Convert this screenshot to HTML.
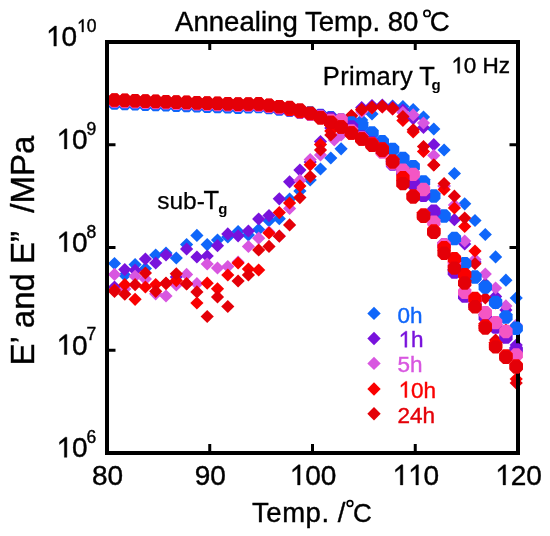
<!DOCTYPE html>
<html><head><meta charset="utf-8"><style>
html,body{margin:0;padding:0;background:#fff;}
svg{display:block;will-change:transform;}
</style></head><body>
<svg width="550" height="536" viewBox="0 0 550 536">
<rect width="550" height="536" fill="#fff"/>
<g>
<path d="M114.5 256.9L121.1 263.5L114.5 270.1L107.9 263.5Z" fill="#0F66FA"/><path d="M124.8 268.6L131.4 275.2L124.8 281.8L118.2 275.2Z" fill="#0F66FA"/><path d="M135.1 258.0L141.7 264.6L135.1 271.2L128.5 264.6Z" fill="#0F66FA"/><path d="M145.4 262.0L152.0 268.6L145.4 275.2L138.8 268.6Z" fill="#0F66FA"/><path d="M155.7 248.4L162.3 255.0L155.7 261.6L149.1 255.0Z" fill="#0F66FA"/><path d="M166.0 246.4L172.6 253.0L166.0 259.6L159.4 253.0Z" fill="#0F66FA"/><path d="M176.3 251.4L182.9 258.0L176.3 264.6L169.7 258.0Z" fill="#0F66FA"/><path d="M186.6 238.0L193.2 244.6L186.6 251.2L180.0 244.6Z" fill="#0F66FA"/><path d="M196.9 228.8L203.5 235.4L196.9 242.0L190.3 235.4Z" fill="#0F66FA"/><path d="M207.2 238.0L213.8 244.6L207.2 251.2L200.6 244.6Z" fill="#0F66FA"/><path d="M217.5 233.4L224.1 240.0L217.5 246.6L210.9 240.0Z" fill="#0F66FA"/><path d="M227.8 230.4L234.4 237.0L227.8 243.6L221.2 237.0Z" fill="#0F66FA"/><path d="M238.1 224.9L244.7 231.5L238.1 238.1L231.5 231.5Z" fill="#0F66FA"/><path d="M248.4 228.4L255.0 235.0L248.4 241.6L241.8 235.0Z" fill="#0F66FA"/><path d="M258.7 222.9L265.3 229.5L258.7 236.1L252.1 229.5Z" fill="#0F66FA"/><path d="M269.0 214.1L275.6 220.7L269.0 227.3L262.4 220.7Z" fill="#0F66FA"/><path d="M279.3 212.1L285.9 218.7L279.3 225.3L272.7 218.7Z" fill="#0F66FA"/><path d="M289.6 192.4L296.2 199.0L289.6 205.6L283.0 199.0Z" fill="#0F66FA"/><path d="M299.9 184.4L306.5 191.0L299.9 197.6L293.3 191.0Z" fill="#0F66FA"/><path d="M310.2 173.4L316.8 180.0L310.2 186.6L303.6 180.0Z" fill="#0F66FA"/><path d="M320.5 162.4L327.1 169.0L320.5 175.6L313.9 169.0Z" fill="#0F66FA"/><path d="M330.8 151.4L337.4 158.0L330.8 164.6L324.2 158.0Z" fill="#0F66FA"/><path d="M341.1 142.2L347.7 148.8L341.1 155.4L334.5 148.8Z" fill="#0F66FA"/><path d="M351.4 121.4L358.0 128.0L351.4 134.6L344.8 128.0Z" fill="#0F66FA"/><path d="M361.7 113.4L368.3 120.0L361.7 126.6L355.1 120.0Z" fill="#0F66FA"/><path d="M372.0 107.4L378.6 114.0L372.0 120.6L365.4 114.0Z" fill="#0F66FA"/><path d="M382.3 99.4L388.9 106.0L382.3 112.6L375.7 106.0Z" fill="#0F66FA"/><path d="M392.6 99.4L399.2 106.0L392.6 112.6L386.0 106.0Z" fill="#0F66FA"/><path d="M402.9 100.0L409.5 106.6L402.9 113.2L396.3 106.6Z" fill="#0F66FA"/><path d="M413.2 103.0L419.8 109.6L413.2 116.2L406.6 109.6Z" fill="#0F66FA"/><path d="M423.5 110.5L430.1 117.1L423.5 123.7L416.9 117.1Z" fill="#0F66FA"/><path d="M433.8 122.4L440.4 129.0L433.8 135.6L427.2 129.0Z" fill="#0F66FA"/><path d="M444.1 143.4L450.7 150.0L444.1 156.6L437.5 150.0Z" fill="#0F66FA"/><path d="M454.4 166.9L461.0 173.5L454.4 180.1L447.8 173.5Z" fill="#0F66FA"/><path d="M464.7 197.2L471.3 203.8L464.7 210.4L458.1 203.8Z" fill="#0F66FA"/><path d="M475.0 213.9L481.6 220.5L475.0 227.1L468.4 220.5Z" fill="#0F66FA"/><path d="M485.3 227.9L491.9 234.5L485.3 241.1L478.7 234.5Z" fill="#0F66FA"/><path d="M495.6 250.3L502.2 256.9L495.6 263.5L489.0 256.9Z" fill="#0F66FA"/><path d="M505.9 273.6L512.5 280.2L505.9 286.8L499.3 280.2Z" fill="#0F66FA"/><path d="M516.2 291.4L522.8 298.0L516.2 304.6L509.6 298.0Z" fill="#0F66FA"/><path d="M114.5 280.4L121.1 287.0L114.5 293.6L107.9 287.0Z" fill="#7812DC"/><path d="M124.8 263.0L131.4 269.6L124.8 276.2L118.2 269.6Z" fill="#7812DC"/><path d="M135.1 263.6L141.7 270.2L135.1 276.8L128.5 270.2Z" fill="#7812DC"/><path d="M145.4 252.4L152.0 259.0L145.4 265.6L138.8 259.0Z" fill="#7812DC"/><path d="M155.7 256.4L162.3 263.0L155.7 269.6L149.1 263.0Z" fill="#7812DC"/><path d="M166.0 248.4L172.6 255.0L166.0 261.6L159.4 255.0Z" fill="#7812DC"/><path d="M176.3 270.4L182.9 277.0L176.3 283.6L169.7 277.0Z" fill="#7812DC"/><path d="M186.6 242.4L193.2 249.0L186.6 255.6L180.0 249.0Z" fill="#7812DC"/><path d="M196.9 250.4L203.5 257.0L196.9 263.6L190.3 257.0Z" fill="#7812DC"/><path d="M207.2 249.4L213.8 256.0L207.2 262.6L200.6 256.0Z" fill="#7812DC"/><path d="M217.5 239.1L224.1 245.7L217.5 252.3L210.9 245.7Z" fill="#7812DC"/><path d="M227.8 227.3L234.4 233.9L227.8 240.5L221.2 233.9Z" fill="#7812DC"/><path d="M238.1 229.2L244.7 235.8L238.1 242.4L231.5 235.8Z" fill="#7812DC"/><path d="M248.4 224.4L255.0 231.0L248.4 237.6L241.8 231.0Z" fill="#7812DC"/><path d="M258.7 212.4L265.3 219.0L258.7 225.6L252.1 219.0Z" fill="#7812DC"/><path d="M269.0 209.0L275.6 215.6L269.0 222.2L262.4 215.6Z" fill="#7812DC"/><path d="M279.3 192.2L285.9 198.8L279.3 205.4L272.7 198.8Z" fill="#7812DC"/><path d="M289.6 175.2L296.2 181.8L289.6 188.4L283.0 181.8Z" fill="#7812DC"/><path d="M299.9 163.5L306.5 170.1L299.9 176.7L293.3 170.1Z" fill="#7812DC"/><path d="M310.2 155.4L316.8 162.0L310.2 168.6L303.6 162.0Z" fill="#7812DC"/><path d="M320.5 134.9L327.1 141.5L320.5 148.1L313.9 141.5Z" fill="#7812DC"/><path d="M330.8 121.4L337.4 128.0L330.8 134.6L324.2 128.0Z" fill="#7812DC"/><path d="M341.1 115.4L347.7 122.0L341.1 128.6L334.5 122.0Z" fill="#7812DC"/><path d="M351.4 112.4L358.0 119.0L351.4 125.6L344.8 119.0Z" fill="#7812DC"/><path d="M361.7 100.9L368.3 107.5L361.7 114.1L355.1 107.5Z" fill="#7812DC"/><path d="M372.0 99.0L378.6 105.6L372.0 112.2L365.4 105.6Z" fill="#7812DC"/><path d="M382.3 98.4L388.9 105.0L382.3 111.6L375.7 105.0Z" fill="#7812DC"/><path d="M392.6 100.4L399.2 107.0L392.6 113.6L386.0 107.0Z" fill="#7812DC"/><path d="M402.9 103.4L409.5 110.0L402.9 116.6L396.3 110.0Z" fill="#7812DC"/><path d="M413.2 112.0L419.8 118.6L413.2 125.2L406.6 118.6Z" fill="#7812DC"/><path d="M423.5 120.9L430.1 127.5L423.5 134.1L416.9 127.5Z" fill="#7812DC"/><path d="M433.8 138.1L440.4 144.7L433.8 151.3L427.2 144.7Z" fill="#7812DC"/><path d="M444.1 179.4L450.7 186.0L444.1 192.6L437.5 186.0Z" fill="#7812DC"/><path d="M454.4 213.1L461.0 219.7L454.4 226.3L447.8 219.7Z" fill="#7812DC"/><path d="M464.7 237.4L471.3 244.0L464.7 250.6L458.1 244.0Z" fill="#7812DC"/><path d="M475.0 255.4L481.6 262.0L475.0 268.6L468.4 262.0Z" fill="#7812DC"/><path d="M485.3 277.4L491.9 284.0L485.3 290.6L478.7 284.0Z" fill="#7812DC"/><path d="M495.6 289.8L502.2 296.4L495.6 303.0L489.0 296.4Z" fill="#7812DC"/><path d="M505.9 303.4L512.5 310.0L505.9 316.6L499.3 310.0Z" fill="#7812DC"/><path d="M516.2 338.4L522.8 345.0L516.2 351.6L509.6 345.0Z" fill="#7812DC"/><path d="M114.5 267.8L121.1 274.4L114.5 281.0L107.9 274.4Z" fill="#D856E0"/><path d="M124.8 282.4L131.4 289.0L124.8 295.6L118.2 289.0Z" fill="#D856E0"/><path d="M135.1 269.7L141.7 276.3L135.1 282.9L128.5 276.3Z" fill="#D856E0"/><path d="M145.4 272.5L152.0 279.1L145.4 285.7L138.8 279.1Z" fill="#D856E0"/><path d="M155.7 287.2L162.3 293.8L155.7 300.4L149.1 293.8Z" fill="#D856E0"/><path d="M166.0 289.4L172.6 296.0L166.0 302.6L159.4 296.0Z" fill="#D856E0"/><path d="M176.3 278.4L182.9 285.0L176.3 291.6L169.7 285.0Z" fill="#D856E0"/><path d="M186.6 267.8L193.2 274.4L186.6 281.0L180.0 274.4Z" fill="#D856E0"/><path d="M196.9 277.1L203.5 283.7L196.9 290.3L190.3 283.7Z" fill="#D856E0"/><path d="M207.2 257.4L213.8 264.0L207.2 270.6L200.6 264.0Z" fill="#D856E0"/><path d="M217.5 261.4L224.1 268.0L217.5 274.6L210.9 268.0Z" fill="#D856E0"/><path d="M227.8 260.0L234.4 266.6L227.8 273.2L221.2 266.6Z" fill="#D856E0"/><path d="M238.1 255.4L244.7 262.0L238.1 268.6L231.5 262.0Z" fill="#D856E0"/><path d="M248.4 239.9L255.0 246.5L248.4 253.1L241.8 246.5Z" fill="#D856E0"/><path d="M258.7 231.6L265.3 238.2L258.7 244.8L252.1 238.2Z" fill="#D856E0"/><path d="M269.0 225.4L275.6 232.0L269.0 238.6L262.4 232.0Z" fill="#D856E0"/><path d="M279.3 229.4L285.9 236.0L279.3 242.6L272.7 236.0Z" fill="#D856E0"/><path d="M289.6 201.9L296.2 208.5L289.6 215.1L283.0 208.5Z" fill="#D856E0"/><path d="M299.9 173.8L306.5 180.4L299.9 187.0L293.3 180.4Z" fill="#D856E0"/><path d="M310.2 152.9L316.8 159.5L310.2 166.1L303.6 159.5Z" fill="#D856E0"/><path d="M320.5 148.4L327.1 155.0L320.5 161.6L313.9 155.0Z" fill="#D856E0"/><path d="M334.3 133.4L340.9 140.0L334.3 146.6L327.7 140.0Z" fill="#D856E0"/><path d="M341.1 128.4L347.7 135.0L341.1 141.6L334.5 135.0Z" fill="#D856E0"/><path d="M351.4 113.4L358.0 120.0L351.4 126.6L344.8 120.0Z" fill="#D856E0"/><path d="M361.7 105.4L368.3 112.0L361.7 118.6L355.1 112.0Z" fill="#D856E0"/><path d="M372.0 101.4L378.6 108.0L372.0 114.6L365.4 108.0Z" fill="#D856E0"/><path d="M382.3 100.4L388.9 107.0L382.3 113.6L375.7 107.0Z" fill="#D856E0"/><path d="M392.6 102.4L399.2 109.0L392.6 115.6L386.0 109.0Z" fill="#D856E0"/><path d="M402.9 106.0L409.5 112.6L402.9 119.2L396.3 112.6Z" fill="#D856E0"/><path d="M413.2 108.3L419.8 114.9L413.2 121.5L406.6 114.9Z" fill="#D856E0"/><path d="M423.5 116.4L430.1 123.0L423.5 129.6L416.9 123.0Z" fill="#D856E0"/><path d="M433.8 148.9L440.4 155.5L433.8 162.1L427.2 155.5Z" fill="#D856E0"/><path d="M444.1 179.4L450.7 186.0L444.1 192.6L437.5 186.0Z" fill="#D856E0"/><path d="M454.4 198.4L461.0 205.0L454.4 211.6L447.8 205.0Z" fill="#D856E0"/><path d="M464.7 234.4L471.3 241.0L464.7 247.6L458.1 241.0Z" fill="#D856E0"/><path d="M475.0 252.9L481.6 259.5L475.0 266.1L468.4 259.5Z" fill="#D856E0"/><path d="M485.3 267.4L491.9 274.0L485.3 280.6L478.7 274.0Z" fill="#D856E0"/><path d="M495.6 281.4L502.2 288.0L495.6 294.6L489.0 288.0Z" fill="#D856E0"/><path d="M505.9 299.3L512.5 305.9L505.9 312.5L499.3 305.9Z" fill="#D856E0"/><path d="M516.2 318.4L522.8 325.0L516.2 331.6L509.6 325.0Z" fill="#D856E0"/><path d="M114.5 283.4L121.1 290.0L114.5 296.6L107.9 290.0Z" fill="#FA0000"/><path d="M124.8 278.1L131.4 284.7L124.8 291.3L118.2 284.7Z" fill="#FA0000"/><path d="M135.1 292.7L141.7 299.3L135.1 305.9L128.5 299.3Z" fill="#FA0000"/><path d="M145.4 280.4L152.0 287.0L145.4 293.6L138.8 287.0Z" fill="#FA0000"/><path d="M155.7 277.9L162.3 284.5L155.7 291.1L149.1 284.5Z" fill="#FA0000"/><path d="M166.0 277.1L172.6 283.7L166.0 290.3L159.4 283.7Z" fill="#FA0000"/><path d="M176.3 274.0L182.9 280.6L176.3 287.2L169.7 280.6Z" fill="#FA0000"/><path d="M186.6 277.1L193.2 283.7L186.6 290.3L180.0 283.7Z" fill="#FA0000"/><path d="M196.9 296.4L203.5 303.0L196.9 309.6L190.3 303.0Z" fill="#FA0000"/><path d="M207.2 276.6L213.8 283.2L207.2 289.8L200.6 283.2Z" fill="#FA0000"/><path d="M217.5 282.2L224.1 288.8L217.5 295.4L210.9 288.8Z" fill="#FA0000"/><path d="M227.8 268.4L234.4 275.0L227.8 281.6L221.2 275.0Z" fill="#FA0000"/><path d="M238.1 256.4L244.7 263.0L238.1 269.6L231.5 263.0Z" fill="#FA0000"/><path d="M248.4 262.4L255.0 269.0L248.4 275.6L241.8 269.0Z" fill="#FA0000"/><path d="M258.7 263.4L265.3 270.0L258.7 276.6L252.1 270.0Z" fill="#FA0000"/><path d="M269.0 226.4L275.6 233.0L269.0 239.6L262.4 233.0Z" fill="#FA0000"/><path d="M279.3 206.0L285.9 212.6L279.3 219.2L272.7 212.6Z" fill="#FA0000"/><path d="M289.6 196.4L296.2 203.0L289.6 209.6L283.0 203.0Z" fill="#FA0000"/><path d="M299.9 179.3L306.5 185.9L299.9 192.5L293.3 185.9Z" fill="#FA0000"/><path d="M310.2 158.2L316.8 164.8L310.2 171.4L303.6 164.8Z" fill="#FA0000"/><path d="M320.5 137.9L327.1 144.5L320.5 151.1L313.9 144.5Z" fill="#FA0000"/><path d="M330.8 124.5L337.4 131.1L330.8 137.7L324.2 131.1Z" fill="#FA0000"/><path d="M341.1 115.4L347.7 122.0L341.1 128.6L334.5 122.0Z" fill="#FA0000"/><path d="M351.4 109.4L358.0 116.0L351.4 122.6L344.8 116.0Z" fill="#FA0000"/><path d="M361.7 103.4L368.3 110.0L361.7 116.6L355.1 110.0Z" fill="#FA0000"/><path d="M372.0 101.4L378.6 108.0L372.0 114.6L365.4 108.0Z" fill="#FA0000"/><path d="M382.3 100.4L388.9 107.0L382.3 113.6L375.7 107.0Z" fill="#FA0000"/><path d="M392.6 102.4L399.2 109.0L392.6 115.6L386.0 109.0Z" fill="#FA0000"/><path d="M402.9 113.9L409.5 120.5L402.9 127.1L396.3 120.5Z" fill="#FA0000"/><path d="M413.2 125.3L419.8 131.9L413.2 138.5L406.6 131.9Z" fill="#FA0000"/><path d="M423.5 144.9L430.1 151.5L423.5 158.1L416.9 151.5Z" fill="#FA0000"/><path d="M433.8 158.4L440.4 165.0L433.8 171.6L427.2 165.0Z" fill="#FA0000"/><path d="M444.1 182.9L450.7 189.5L444.1 196.1L437.5 189.5Z" fill="#FA0000"/><path d="M454.4 201.4L461.0 208.0L454.4 214.6L447.8 208.0Z" fill="#FA0000"/><path d="M464.7 219.9L471.3 226.5L464.7 233.1L458.1 226.5Z" fill="#FA0000"/><path d="M475.0 244.4L481.6 251.0L475.0 257.6L468.4 251.0Z" fill="#FA0000"/><path d="M485.3 279.4L491.9 286.0L485.3 292.6L478.7 286.0Z" fill="#FA0000"/><path d="M495.6 296.4L502.2 303.0L495.6 309.6L489.0 303.0Z" fill="#FA0000"/><path d="M505.9 323.4L512.5 330.0L505.9 336.6L499.3 330.0Z" fill="#FA0000"/><path d="M516.2 372.4L522.8 379.0L516.2 385.6L509.6 379.0Z" fill="#FA0000"/><path d="M114.5 284.8L121.1 291.4L114.5 298.0L107.9 291.4Z" fill="#E40008"/><path d="M124.8 287.6L131.4 294.2L124.8 300.8L118.2 294.2Z" fill="#E40008"/><path d="M135.1 278.1L141.7 284.7L135.1 291.3L128.5 284.7Z" fill="#E40008"/><path d="M145.4 266.4L152.0 273.0L145.4 279.6L138.8 273.0Z" fill="#E40008"/><path d="M155.7 284.7L162.3 291.3L155.7 297.9L149.1 291.3Z" fill="#E40008"/><path d="M166.0 276.4L172.6 283.0L166.0 289.6L159.4 283.0Z" fill="#E40008"/><path d="M176.3 267.2L182.9 273.8L176.3 280.4L169.7 273.8Z" fill="#E40008"/><path d="M186.6 277.4L193.2 284.0L186.6 290.6L180.0 284.0Z" fill="#E40008"/><path d="M196.9 285.3L203.5 291.9L196.9 298.5L190.3 291.9Z" fill="#E40008"/><path d="M207.2 309.9L213.8 316.5L207.2 323.1L200.6 316.5Z" fill="#E40008"/><path d="M217.5 290.4L224.1 297.0L217.5 303.6L210.9 297.0Z" fill="#E40008"/><path d="M227.8 299.9L234.4 306.5L227.8 313.1L221.2 306.5Z" fill="#E40008"/><path d="M238.1 274.4L244.7 281.0L238.1 287.6L231.5 281.0Z" fill="#E40008"/><path d="M248.4 268.4L255.0 275.0L248.4 281.6L241.8 275.0Z" fill="#E40008"/><path d="M258.7 243.4L265.3 250.0L258.7 256.6L252.1 250.0Z" fill="#E40008"/><path d="M269.0 239.8L275.6 246.4L269.0 253.0L262.4 246.4Z" fill="#E40008"/><path d="M279.3 229.6L285.9 236.2L279.3 242.8L272.7 236.2Z" fill="#E40008"/><path d="M289.6 218.3L296.2 224.9L289.6 231.5L283.0 224.9Z" fill="#E40008"/><path d="M299.9 191.0L306.5 197.6L299.9 204.2L293.3 197.6Z" fill="#E40008"/><path d="M310.2 170.0L316.8 176.6L310.2 183.2L303.6 176.6Z" fill="#E40008"/><path d="M320.5 143.4L327.1 150.0L320.5 156.6L313.9 150.0Z" fill="#E40008"/><path d="M330.8 128.4L337.4 135.0L330.8 141.6L324.2 135.0Z" fill="#E40008"/><path d="M341.1 114.4L347.7 121.0L341.1 127.6L334.5 121.0Z" fill="#E40008"/><path d="M351.4 108.9L358.0 115.5L351.4 122.1L344.8 115.5Z" fill="#E40008"/><path d="M361.7 102.7L368.3 109.3L361.7 115.9L355.1 109.3Z" fill="#E40008"/><path d="M372.0 100.4L378.6 107.0L372.0 113.6L365.4 107.0Z" fill="#E40008"/><path d="M382.3 99.4L388.9 106.0L382.3 112.6L375.7 106.0Z" fill="#E40008"/><path d="M392.6 101.5L399.2 108.1L392.6 114.7L386.0 108.1Z" fill="#E40008"/><path d="M402.9 109.9L409.5 116.5L402.9 123.1L396.3 116.5Z" fill="#E40008"/><path d="M413.2 123.2L419.8 129.8L413.2 136.4L406.6 129.8Z" fill="#E40008"/><path d="M423.5 139.9L430.1 146.5L423.5 153.1L416.9 146.5Z" fill="#E40008"/><path d="M433.8 158.4L440.4 165.0L433.8 171.6L427.2 165.0Z" fill="#E40008"/><path d="M444.1 177.0L450.7 183.6L444.1 190.2L437.5 183.6Z" fill="#E40008"/><path d="M454.4 189.6L461.0 196.2L454.4 202.8L447.8 196.2Z" fill="#E40008"/><path d="M464.7 211.4L471.3 218.0L464.7 224.6L458.1 218.0Z" fill="#E40008"/><path d="M475.0 257.1L481.6 263.7L475.0 270.3L468.4 263.7Z" fill="#E40008"/><path d="M485.3 291.4L491.9 298.0L485.3 304.6L478.7 298.0Z" fill="#E40008"/><path d="M495.6 333.4L502.2 340.0L495.6 346.6L489.0 340.0Z" fill="#E40008"/><path d="M505.9 350.4L512.5 357.0L505.9 363.6L499.3 357.0Z" fill="#E40008"/><path d="M516.2 376.4L522.8 383.0L516.2 389.6L509.6 383.0Z" fill="#E40008"/>
<line x1="518" y1="40" x2="518" y2="455" stroke="#000" stroke-width="4"/><line x1="105" y1="42" x2="520" y2="42" stroke="#000" stroke-width="4"/><line x1="209.75" y1="44" x2="209.75" y2="50" stroke="#000" stroke-width="3"/><line x1="312.50" y1="44" x2="312.50" y2="50" stroke="#000" stroke-width="3"/><line x1="415.25" y1="44" x2="415.25" y2="50" stroke="#000" stroke-width="3"/><line x1="516" y1="350.25" x2="509.5" y2="350.25" stroke="#000" stroke-width="3"/><line x1="516" y1="247.50" x2="509.5" y2="247.50" stroke="#000" stroke-width="3"/><line x1="516" y1="144.75" x2="509.5" y2="144.75" stroke="#000" stroke-width="3"/>
<polygon points="121.2,105.9 117.3,109.8 111.7,109.8 107.8,105.9 107.8,100.3 111.7,96.4 117.3,96.4 121.2,100.3" fill="#0F66FA"/><polygon points="131.5,106.2 127.6,110.2 122.0,110.2 118.1,106.2 118.1,100.7 122.0,96.7 127.6,96.7 131.5,100.7" fill="#0F66FA"/><polygon points="141.8,106.6 137.9,110.5 132.3,110.5 128.4,106.6 128.4,101.0 132.3,97.1 137.9,97.1 141.8,101.0" fill="#0F66FA"/><polygon points="152.1,106.9 148.2,110.9 142.6,110.9 138.7,106.9 138.7,101.3 142.6,97.4 148.2,97.4 152.1,101.3" fill="#0F66FA"/><polygon points="162.4,107.3 158.5,111.2 152.9,111.2 149.0,107.3 149.0,101.7 152.9,97.8 158.5,97.8 162.4,101.7" fill="#0F66FA"/><polygon points="172.7,107.6 168.8,111.5 163.2,111.5 159.3,107.6 159.3,102.0 163.2,98.1 168.8,98.1 172.7,102.0" fill="#0F66FA"/><polygon points="183.0,108.0 179.1,111.9 173.5,111.9 169.6,108.0 169.6,102.4 173.5,98.4 179.1,98.4 183.0,102.4" fill="#0F66FA"/><polygon points="193.3,108.3 189.4,112.2 183.8,112.2 179.9,108.3 179.9,102.7 183.8,98.8 189.4,98.8 193.3,102.7" fill="#0F66FA"/><polygon points="203.6,108.6 199.7,112.6 194.1,112.6 190.2,108.6 190.2,103.1 194.1,99.1 199.7,99.1 203.6,103.1" fill="#0F66FA"/><polygon points="213.9,109.0 210.0,112.9 204.4,112.9 200.5,109.0 200.5,103.4 204.4,99.5 210.0,99.5 213.9,103.4" fill="#0F66FA"/><polygon points="224.2,109.3 220.3,113.3 214.7,113.3 210.8,109.3 210.8,103.7 214.7,99.8 220.3,99.8 224.2,103.7" fill="#0F66FA"/><polygon points="234.5,109.7 230.6,113.6 225.0,113.6 221.1,109.7 221.1,104.1 225.0,100.1 230.6,100.1 234.5,104.1" fill="#0F66FA"/><polygon points="244.8,110.0 240.9,113.9 235.3,113.9 231.4,110.0 231.4,104.4 235.3,100.5 240.9,100.5 244.8,104.4" fill="#0F66FA"/><polygon points="255.1,109.6 251.2,113.6 245.6,113.6 241.7,109.6 241.7,104.1 245.6,100.1 251.2,100.1 255.1,104.1" fill="#0F66FA"/><polygon points="265.4,109.3 261.5,113.2 255.9,113.2 252.0,109.3 252.0,103.7 255.9,99.8 261.5,99.8 265.4,103.7" fill="#0F66FA"/><polygon points="275.7,110.4 271.8,114.3 266.2,114.3 262.3,110.4 262.3,104.8 266.2,100.9 271.8,100.9 275.7,104.8" fill="#0F66FA"/><polygon points="286.0,111.8 282.1,115.7 276.5,115.7 272.6,111.8 272.6,106.2 276.5,102.3 282.1,102.3 286.0,106.2" fill="#0F66FA"/><polygon points="296.3,112.8 292.4,116.7 286.8,116.7 282.9,112.8 282.9,107.2 286.8,103.3 292.4,103.3 296.3,107.2" fill="#0F66FA"/><polygon points="306.6,113.8 302.7,117.7 297.1,117.7 293.2,113.8 293.2,108.2 297.1,104.3 302.7,104.3 306.6,108.2" fill="#0F66FA"/><polygon points="316.9,115.8 313.0,119.7 307.4,119.7 303.5,115.8 303.5,110.2 307.4,106.3 313.0,106.3 316.9,110.2" fill="#0F66FA"/><polygon points="327.2,118.3 323.3,122.2 317.7,122.2 313.8,118.3 313.8,112.7 317.7,108.8 323.3,108.8 327.2,112.7" fill="#0F66FA"/><polygon points="337.5,120.6 333.6,124.5 328.0,124.5 324.1,120.6 324.1,115.0 328.0,111.1 333.6,111.1 337.5,115.0" fill="#0F66FA"/><polygon points="347.8,122.8 343.9,126.7 338.3,126.7 334.4,122.8 334.4,117.2 338.3,113.3 343.9,113.3 347.8,117.2" fill="#0F66FA"/><polygon points="358.1,125.8 354.2,129.7 348.6,129.7 344.7,125.8 344.7,120.2 348.6,116.3 354.2,116.3 358.1,120.2" fill="#0F66FA"/><polygon points="368.4,127.8 364.5,131.7 358.9,131.7 355.0,127.8 355.0,122.2 358.9,118.3 364.5,118.3 368.4,122.2" fill="#0F66FA"/><polygon points="378.7,135.8 374.8,139.7 369.2,139.7 365.3,135.8 365.3,130.2 369.2,126.3 374.8,126.3 378.7,130.2" fill="#0F66FA"/><polygon points="389.0,144.5 385.1,148.4 379.5,148.4 375.6,144.5 375.6,138.9 379.5,135.0 385.1,135.0 389.0,138.9" fill="#0F66FA"/><polygon points="399.3,152.2 395.4,156.1 389.8,156.1 385.9,152.2 385.9,146.6 389.8,142.7 395.4,142.7 399.3,146.6" fill="#0F66FA"/><polygon points="409.6,161.2 405.7,165.1 400.1,165.1 396.2,161.2 396.2,155.6 400.1,151.7 405.7,151.7 409.6,155.6" fill="#0F66FA"/><polygon points="419.9,169.4 416.0,173.3 410.4,173.3 406.5,169.4 406.5,163.8 410.4,159.9 416.0,159.9 419.9,163.8" fill="#0F66FA"/><polygon points="430.2,184.8 426.3,188.7 420.7,188.7 416.8,184.8 416.8,179.2 420.7,175.3 426.3,175.3 430.2,179.2" fill="#0F66FA"/><polygon points="440.5,198.8 436.6,202.7 431.0,202.7 427.1,198.8 427.1,193.2 431.0,189.3 436.6,189.3 440.5,193.2" fill="#0F66FA"/><polygon points="450.8,218.8 446.9,222.7 441.3,222.7 437.4,218.8 437.4,213.2 441.3,209.3 446.9,209.3 450.8,213.2" fill="#0F66FA"/><polygon points="461.1,241.3 457.2,245.2 451.6,245.2 447.7,241.3 447.7,235.7 451.6,231.8 457.2,231.8 461.1,235.7" fill="#0F66FA"/><polygon points="471.4,266.4 467.5,270.3 461.9,270.3 458.0,266.4 458.0,260.8 461.9,256.9 467.5,256.9 471.4,260.8" fill="#0F66FA"/><polygon points="481.7,279.8 477.8,283.7 472.2,283.7 468.3,279.8 468.3,274.2 472.2,270.3 477.8,270.3 481.7,274.2" fill="#0F66FA"/><polygon points="492.0,289.8 488.1,293.7 482.5,293.7 478.6,289.8 478.6,284.2 482.5,280.3 488.1,280.3 492.0,284.2" fill="#0F66FA"/><polygon points="502.3,305.2 498.4,309.1 492.8,309.1 488.9,305.2 488.9,299.6 492.8,295.7 498.4,295.7 502.3,299.6" fill="#0F66FA"/><polygon points="512.6,319.8 508.7,323.7 503.1,323.7 499.2,319.8 499.2,314.2 503.1,310.3 508.7,310.3 512.6,314.2" fill="#0F66FA"/><polygon points="522.9,331.0 519.0,334.9 513.4,334.9 509.5,331.0 509.5,325.4 513.4,321.5 519.0,321.5 522.9,325.4" fill="#0F66FA"/><polygon points="121.2,103.5 117.3,107.4 111.7,107.4 107.8,103.5 107.8,97.9 111.7,94.0 117.3,94.0 121.2,97.9" fill="#7812DC"/><polygon points="131.5,103.8 127.6,107.8 122.0,107.8 118.1,103.8 118.1,98.3 122.0,94.3 127.6,94.3 131.5,98.3" fill="#7812DC"/><polygon points="141.8,104.2 137.9,108.1 132.3,108.1 128.4,104.2 128.4,98.6 132.3,94.7 137.9,94.7 141.8,98.6" fill="#7812DC"/><polygon points="152.1,104.5 148.2,108.5 142.6,108.5 138.7,104.5 138.7,98.9 142.6,95.0 148.2,95.0 152.1,98.9" fill="#7812DC"/><polygon points="162.4,104.9 158.5,108.8 152.9,108.8 149.0,104.9 149.0,99.3 152.9,95.4 158.5,95.4 162.4,99.3" fill="#7812DC"/><polygon points="172.7,105.2 168.8,109.1 163.2,109.1 159.3,105.2 159.3,99.6 163.2,95.7 168.8,95.7 172.7,99.6" fill="#7812DC"/><polygon points="183.0,105.6 179.1,109.5 173.5,109.5 169.6,105.6 169.6,100.0 173.5,96.0 179.1,96.0 183.0,100.0" fill="#7812DC"/><polygon points="193.3,105.9 189.4,109.8 183.8,109.8 179.9,105.9 179.9,100.3 183.8,96.4 189.4,96.4 193.3,100.3" fill="#7812DC"/><polygon points="203.6,106.2 199.7,110.2 194.1,110.2 190.2,106.2 190.2,100.7 194.1,96.7 199.7,96.7 203.6,100.7" fill="#7812DC"/><polygon points="213.9,106.6 210.0,110.5 204.4,110.5 200.5,106.6 200.5,101.0 204.4,97.1 210.0,97.1 213.9,101.0" fill="#7812DC"/><polygon points="224.2,106.9 220.3,110.9 214.7,110.9 210.8,106.9 210.8,101.3 214.7,97.4 220.3,97.4 224.2,101.3" fill="#7812DC"/><polygon points="234.5,107.3 230.6,111.2 225.0,111.2 221.1,107.3 221.1,101.7 225.0,97.7 230.6,97.7 234.5,101.7" fill="#7812DC"/><polygon points="244.8,107.6 240.9,111.5 235.3,111.5 231.4,107.6 231.4,102.0 235.3,98.1 240.9,98.1 244.8,102.0" fill="#7812DC"/><polygon points="255.1,107.7 251.2,111.6 245.6,111.6 241.7,107.7 241.7,102.1 245.6,98.2 251.2,98.2 255.1,102.1" fill="#7812DC"/><polygon points="265.4,107.8 261.5,111.7 255.9,111.7 252.0,107.8 252.0,102.2 255.9,98.3 261.5,98.3 265.4,102.2" fill="#7812DC"/><polygon points="275.7,109.3 271.8,113.3 266.2,113.3 262.3,109.3 262.3,103.8 266.2,99.8 271.8,99.8 275.7,103.8" fill="#7812DC"/><polygon points="286.0,110.9 282.1,114.8 276.5,114.8 272.6,110.9 272.6,105.3 276.5,101.4 282.1,101.4 286.0,105.3" fill="#7812DC"/><polygon points="296.3,112.6 292.4,116.5 286.8,116.5 282.9,112.6 282.9,107.0 286.8,103.1 292.4,103.1 296.3,107.0" fill="#7812DC"/><polygon points="306.6,114.9 302.7,118.8 297.1,118.8 293.2,114.9 293.2,109.3 297.1,105.4 302.7,105.4 306.6,109.3" fill="#7812DC"/><polygon points="316.9,116.8 313.0,120.7 307.4,120.7 303.5,116.8 303.5,111.2 307.4,107.3 313.0,107.3 316.9,111.2" fill="#7812DC"/><polygon points="327.2,118.8 323.3,122.7 317.7,122.7 313.8,118.8 313.8,113.2 317.7,109.3 323.3,109.3 327.2,113.2" fill="#7812DC"/><polygon points="337.5,121.3 333.6,125.2 328.0,125.2 324.1,121.3 324.1,115.7 328.0,111.8 333.6,111.8 337.5,115.7" fill="#7812DC"/><polygon points="347.8,123.8 343.9,127.7 338.3,127.7 334.4,123.8 334.4,118.2 338.3,114.3 343.9,114.3 347.8,118.2" fill="#7812DC"/><polygon points="358.1,129.8 354.2,133.7 348.6,133.7 344.7,129.8 344.7,124.2 348.6,120.3 354.2,120.3 358.1,124.2" fill="#7812DC"/><polygon points="368.4,139.8 364.5,143.7 358.9,143.7 355.0,139.8 355.0,134.2 358.9,130.3 364.5,130.3 368.4,134.2" fill="#7812DC"/><polygon points="378.7,145.8 374.8,149.7 369.2,149.7 365.3,145.8 365.3,140.2 369.2,136.3 374.8,136.3 378.7,140.2" fill="#7812DC"/><polygon points="389.0,151.8 385.1,155.7 379.5,155.7 375.6,151.8 375.6,146.2 379.5,142.3 385.1,142.3 389.0,146.2" fill="#7812DC"/><polygon points="399.3,166.8 395.4,170.7 389.8,170.7 385.9,166.8 385.9,161.2 389.8,157.3 395.4,157.3 399.3,161.2" fill="#7812DC"/><polygon points="409.6,174.8 405.7,178.7 400.1,178.7 396.2,174.8 396.2,169.2 400.1,165.3 405.7,165.3 409.6,169.2" fill="#7812DC"/><polygon points="419.9,186.4 416.0,190.3 410.4,190.3 406.5,186.4 406.5,180.8 410.4,176.9 416.0,176.9 419.9,180.8" fill="#7812DC"/><polygon points="430.2,198.2 426.3,202.1 420.7,202.1 416.8,198.2 416.8,192.6 420.7,188.7 426.3,188.7 430.2,192.6" fill="#7812DC"/><polygon points="440.5,214.1 436.6,218.0 431.0,218.0 427.1,214.1 427.1,208.5 431.0,204.6 436.6,204.6 440.5,208.5" fill="#7812DC"/><polygon points="450.8,247.8 446.9,251.7 441.3,251.7 437.4,247.8 437.4,242.2 441.3,238.3 446.9,238.3 450.8,242.2" fill="#7812DC"/><polygon points="461.1,274.8 457.2,278.7 451.6,278.7 447.7,274.8 447.7,269.2 451.6,265.3 457.2,265.3 461.1,269.2" fill="#7812DC"/><polygon points="471.4,298.8 467.5,302.7 461.9,302.7 458.0,298.8 458.0,293.2 461.9,289.3 467.5,289.3 471.4,293.2" fill="#7812DC"/><polygon points="481.7,307.8 477.8,311.7 472.2,311.7 468.3,307.8 468.3,302.2 472.2,298.3 477.8,298.3 481.7,302.2" fill="#7812DC"/><polygon points="492.0,319.8 488.1,323.7 482.5,323.7 478.6,319.8 478.6,314.2 482.5,310.3 488.1,310.3 492.0,314.2" fill="#7812DC"/><polygon points="502.3,329.8 498.4,333.7 492.8,333.7 488.9,329.8 488.9,324.2 492.8,320.3 498.4,320.3 502.3,324.2" fill="#7812DC"/><polygon points="512.6,339.8 508.7,343.7 503.1,343.7 499.2,339.8 499.2,334.2 503.1,330.3 508.7,330.3 512.6,334.2" fill="#7812DC"/><polygon points="522.9,352.8 519.0,356.7 513.4,356.7 509.5,352.8 509.5,347.2 513.4,343.3 519.0,343.3 522.9,347.2" fill="#7812DC"/><polygon points="121.2,103.9 117.3,107.8 111.7,107.8 107.8,103.9 107.8,98.3 111.7,94.4 117.3,94.4 121.2,98.3" fill="#F456C4"/><polygon points="131.5,104.2 127.6,108.2 122.0,108.2 118.1,104.2 118.1,98.7 122.0,94.7 127.6,94.7 131.5,98.7" fill="#F456C4"/><polygon points="141.8,104.6 137.9,108.5 132.3,108.5 128.4,104.6 128.4,99.0 132.3,95.1 137.9,95.1 141.8,99.0" fill="#F456C4"/><polygon points="152.1,104.9 148.2,108.9 142.6,108.9 138.7,104.9 138.7,99.3 142.6,95.4 148.2,95.4 152.1,99.3" fill="#F456C4"/><polygon points="162.4,105.3 158.5,109.2 152.9,109.2 149.0,105.3 149.0,99.7 152.9,95.8 158.5,95.8 162.4,99.7" fill="#F456C4"/><polygon points="172.7,105.6 168.8,109.5 163.2,109.5 159.3,105.6 159.3,100.0 163.2,96.1 168.8,96.1 172.7,100.0" fill="#F456C4"/><polygon points="183.0,106.0 179.1,109.9 173.5,109.9 169.6,106.0 169.6,100.4 173.5,96.4 179.1,96.4 183.0,100.4" fill="#F456C4"/><polygon points="193.3,106.3 189.4,110.2 183.8,110.2 179.9,106.3 179.9,100.7 183.8,96.8 189.4,96.8 193.3,100.7" fill="#F456C4"/><polygon points="203.6,106.6 199.7,110.6 194.1,110.6 190.2,106.6 190.2,101.1 194.1,97.1 199.7,97.1 203.6,101.1" fill="#F456C4"/><polygon points="213.9,107.0 210.0,110.9 204.4,110.9 200.5,107.0 200.5,101.4 204.4,97.5 210.0,97.5 213.9,101.4" fill="#F456C4"/><polygon points="224.2,107.3 220.3,111.3 214.7,111.3 210.8,107.3 210.8,101.7 214.7,97.8 220.3,97.8 224.2,101.7" fill="#F456C4"/><polygon points="234.5,107.7 230.6,111.6 225.0,111.6 221.1,107.7 221.1,102.1 225.0,98.1 230.6,98.1 234.5,102.1" fill="#F456C4"/><polygon points="244.8,108.0 240.9,111.9 235.3,111.9 231.4,108.0 231.4,102.4 235.3,98.5 240.9,98.5 244.8,102.4" fill="#F456C4"/><polygon points="255.1,107.9 251.2,111.8 245.6,111.8 241.7,107.9 241.7,102.3 245.6,98.4 251.2,98.4 255.1,102.3" fill="#F456C4"/><polygon points="265.4,107.8 261.5,111.7 255.9,111.7 252.0,107.8 252.0,102.2 255.9,98.3 261.5,98.3 265.4,102.2" fill="#F456C4"/><polygon points="275.7,109.0 271.8,113.0 266.2,113.0 262.3,109.0 262.3,103.5 266.2,99.5 271.8,99.5 275.7,103.5" fill="#F456C4"/><polygon points="286.0,110.3 282.1,114.2 276.5,114.2 272.6,110.3 272.6,104.7 276.5,100.8 282.1,100.8 286.0,104.7" fill="#F456C4"/><polygon points="296.3,111.8 292.4,115.7 286.8,115.7 282.9,111.8 282.9,106.2 286.8,102.3 292.4,102.3 296.3,106.2" fill="#F456C4"/><polygon points="306.6,114.3 302.7,118.2 297.1,118.2 293.2,114.3 293.2,108.7 297.1,104.8 302.7,104.8 306.6,108.7" fill="#F456C4"/><polygon points="316.9,116.9 313.0,120.8 307.4,120.8 303.5,116.9 303.5,111.3 307.4,107.4 313.0,107.4 316.9,111.3" fill="#F456C4"/><polygon points="327.2,119.8 323.3,123.7 317.7,123.7 313.8,119.8 313.8,114.2 317.7,110.3 323.3,110.3 327.2,114.2" fill="#F456C4"/><polygon points="337.5,123.2 333.6,127.1 328.0,127.1 324.1,123.2 324.1,117.6 328.0,113.7 333.6,113.7 337.5,117.6" fill="#F456C4"/><polygon points="347.8,122.8 343.9,126.7 338.3,126.7 334.4,122.8 334.4,117.2 338.3,113.3 343.9,113.3 347.8,117.2" fill="#F456C4"/><polygon points="358.1,133.8 354.2,137.7 348.6,137.7 344.7,133.8 344.7,128.2 348.6,124.3 354.2,124.3 358.1,128.2" fill="#F456C4"/><polygon points="368.4,140.8 364.5,144.7 358.9,144.7 355.0,140.8 355.0,135.2 358.9,131.3 364.5,131.3 368.4,135.2" fill="#F456C4"/><polygon points="378.7,146.8 374.8,150.7 369.2,150.7 365.3,146.8 365.3,141.2 369.2,137.3 374.8,137.3 378.7,141.2" fill="#F456C4"/><polygon points="389.0,154.8 385.1,158.7 379.5,158.7 375.6,154.8 375.6,149.2 379.5,145.3 385.1,145.3 389.0,149.2" fill="#F456C4"/><polygon points="399.3,165.8 395.4,169.7 389.8,169.7 385.9,165.8 385.9,160.2 389.8,156.3 395.4,156.3 399.3,160.2" fill="#F456C4"/><polygon points="409.6,173.0 405.7,176.9 400.1,176.9 396.2,173.0 396.2,167.4 400.1,163.5 405.7,163.5 409.6,167.4" fill="#F456C4"/><polygon points="419.9,177.2 416.0,181.1 410.4,181.1 406.5,177.2 406.5,171.6 410.4,167.7 416.0,167.7 419.9,171.6" fill="#F456C4"/><polygon points="430.2,192.3 426.3,196.2 420.7,196.2 416.8,192.3 416.8,186.7 420.7,182.8 426.3,182.8 430.2,186.7" fill="#F456C4"/><polygon points="440.5,225.1 436.6,229.0 431.0,229.0 427.1,225.1 427.1,219.5 431.0,215.6 436.6,215.6 440.5,219.5" fill="#F456C4"/><polygon points="450.8,247.8 446.9,251.7 441.3,251.7 437.4,247.8 437.4,242.2 441.3,238.3 446.9,238.3 450.8,242.2" fill="#F456C4"/><polygon points="461.1,267.8 457.2,271.7 451.6,271.7 447.7,267.8 447.7,262.2 451.6,258.3 457.2,258.3 461.1,262.2" fill="#F456C4"/><polygon points="471.4,295.1 467.5,299.0 461.9,299.0 458.0,295.1 458.0,289.5 461.9,285.6 467.5,285.6 471.4,289.5" fill="#F456C4"/><polygon points="481.7,302.8 477.8,306.7 472.2,306.7 468.3,302.8 468.3,297.2 472.2,293.3 477.8,293.3 481.7,297.2" fill="#F456C4"/><polygon points="492.0,315.6 488.1,319.5 482.5,319.5 478.6,315.6 478.6,310.0 482.5,306.1 488.1,306.1 492.0,310.0" fill="#F456C4"/><polygon points="502.3,325.4 498.4,329.3 492.8,329.3 488.9,325.4 488.9,319.8 492.8,315.9 498.4,315.9 502.3,319.8" fill="#F456C4"/><polygon points="512.6,334.3 508.7,338.2 503.1,338.2 499.2,334.3 499.2,328.7 503.1,324.8 508.7,324.8 512.6,328.7" fill="#F456C4"/><polygon points="522.9,357.8 519.0,361.7 513.4,361.7 509.5,357.8 509.5,352.2 513.4,348.3 519.0,348.3 522.9,352.2" fill="#F456C4"/><polygon points="121.2,102.9 117.3,106.8 111.7,106.8 107.8,102.9 107.8,97.3 111.7,93.4 117.3,93.4 121.2,97.3" fill="#FA0000"/><polygon points="131.5,103.2 127.6,107.2 122.0,107.2 118.1,103.2 118.1,97.7 122.0,93.7 127.6,93.7 131.5,97.7" fill="#FA0000"/><polygon points="141.8,103.6 137.9,107.5 132.3,107.5 128.4,103.6 128.4,98.0 132.3,94.1 137.9,94.1 141.8,98.0" fill="#FA0000"/><polygon points="152.1,103.9 148.2,107.9 142.6,107.9 138.7,103.9 138.7,98.3 142.6,94.4 148.2,94.4 152.1,98.3" fill="#FA0000"/><polygon points="162.4,104.3 158.5,108.2 152.9,108.2 149.0,104.3 149.0,98.7 152.9,94.8 158.5,94.8 162.4,98.7" fill="#FA0000"/><polygon points="172.7,104.6 168.8,108.5 163.2,108.5 159.3,104.6 159.3,99.0 163.2,95.1 168.8,95.1 172.7,99.0" fill="#FA0000"/><polygon points="183.0,105.0 179.1,108.9 173.5,108.9 169.6,105.0 169.6,99.4 173.5,95.4 179.1,95.4 183.0,99.4" fill="#FA0000"/><polygon points="193.3,105.3 189.4,109.2 183.8,109.2 179.9,105.3 179.9,99.7 183.8,95.8 189.4,95.8 193.3,99.7" fill="#FA0000"/><polygon points="203.6,105.6 199.7,109.6 194.1,109.6 190.2,105.6 190.2,100.1 194.1,96.1 199.7,96.1 203.6,100.1" fill="#FA0000"/><polygon points="213.9,106.0 210.0,109.9 204.4,109.9 200.5,106.0 200.5,100.4 204.4,96.5 210.0,96.5 213.9,100.4" fill="#FA0000"/><polygon points="224.2,106.3 220.3,110.3 214.7,110.3 210.8,106.3 210.8,100.7 214.7,96.8 220.3,96.8 224.2,100.7" fill="#FA0000"/><polygon points="234.5,106.7 230.6,110.6 225.0,110.6 221.1,106.7 221.1,101.1 225.0,97.1 230.6,97.1 234.5,101.1" fill="#FA0000"/><polygon points="244.8,107.0 240.9,110.9 235.3,110.9 231.4,107.0 231.4,101.4 235.3,97.5 240.9,97.5 244.8,101.4" fill="#FA0000"/><polygon points="255.1,106.9 251.2,110.8 245.6,110.8 241.7,106.9 241.7,101.3 245.6,97.4 251.2,97.4 255.1,101.3" fill="#FA0000"/><polygon points="265.4,106.8 261.5,110.7 255.9,110.7 252.0,106.8 252.0,101.2 255.9,97.3 261.5,97.3 265.4,101.2" fill="#FA0000"/><polygon points="275.7,108.3 271.8,112.2 266.2,112.2 262.3,108.3 262.3,102.7 266.2,98.8 271.8,98.8 275.7,102.7" fill="#FA0000"/><polygon points="286.0,109.4 282.1,113.3 276.5,113.3 272.6,109.4 272.6,103.8 276.5,99.9 282.1,99.9 286.0,103.8" fill="#FA0000"/><polygon points="296.3,112.1 292.4,116.0 286.8,116.0 282.9,112.1 282.9,106.5 286.8,102.6 292.4,102.6 296.3,106.5" fill="#FA0000"/><polygon points="306.6,114.3 302.7,118.2 297.1,118.2 293.2,114.3 293.2,108.7 297.1,104.8 302.7,104.8 306.6,108.7" fill="#FA0000"/><polygon points="316.9,116.4 313.0,120.3 307.4,120.3 303.5,116.4 303.5,110.8 307.4,106.9 313.0,106.9 316.9,110.8" fill="#FA0000"/><polygon points="327.2,120.6 323.3,124.5 317.7,124.5 313.8,120.6 313.8,115.0 317.7,111.1 323.3,111.1 327.2,115.0" fill="#FA0000"/><polygon points="337.5,125.3 333.6,129.2 328.0,129.2 324.1,125.3 324.1,119.7 328.0,115.8 333.6,115.8 337.5,119.7" fill="#FA0000"/><polygon points="347.8,129.8 343.9,133.7 338.3,133.7 334.4,129.8 334.4,124.2 338.3,120.3 343.9,120.3 347.8,124.2" fill="#FA0000"/><polygon points="358.1,135.8 354.2,139.7 348.6,139.7 344.7,135.8 344.7,130.2 348.6,126.3 354.2,126.3 358.1,130.2" fill="#FA0000"/><polygon points="368.4,141.8 364.5,145.7 358.9,145.7 355.0,141.8 355.0,136.2 358.9,132.3 364.5,132.3 368.4,136.2" fill="#FA0000"/><polygon points="378.7,146.8 374.8,150.7 369.2,150.7 365.3,146.8 365.3,141.2 369.2,137.3 374.8,137.3 378.7,141.2" fill="#FA0000"/><polygon points="389.0,151.8 385.1,155.7 379.5,155.7 375.6,151.8 375.6,146.2 379.5,142.3 385.1,142.3 389.0,146.2" fill="#FA0000"/><polygon points="399.3,163.8 395.4,167.7 389.8,167.7 385.9,163.8 385.9,158.2 389.8,154.3 395.4,154.3 399.3,158.2" fill="#FA0000"/><polygon points="409.6,180.5 405.7,184.4 400.1,184.4 396.2,180.5 396.2,174.9 400.1,171.0 405.7,171.0 409.6,174.9" fill="#FA0000"/><polygon points="419.9,198.8 416.0,202.7 410.4,202.7 406.5,198.8 406.5,193.2 410.4,189.3 416.0,189.3 419.9,193.2" fill="#FA0000"/><polygon points="430.2,217.8 426.3,221.7 420.7,221.7 416.8,217.8 416.8,212.2 420.7,208.3 426.3,208.3 430.2,212.2" fill="#FA0000"/><polygon points="440.5,233.8 436.6,237.7 431.0,237.7 427.1,233.8 427.1,228.2 431.0,224.3 436.6,224.3 440.5,228.2" fill="#FA0000"/><polygon points="450.8,250.4 446.9,254.3 441.3,254.3 437.4,250.4 437.4,244.8 441.3,240.9 446.9,240.9 450.8,244.8" fill="#FA0000"/><polygon points="461.1,261.6 457.2,265.5 451.6,265.5 447.7,261.6 447.7,256.0 451.6,252.1 457.2,252.1 461.1,256.0" fill="#FA0000"/><polygon points="471.4,277.4 467.5,281.3 461.9,281.3 458.0,277.4 458.0,271.8 461.9,267.9 467.5,267.9 471.4,271.8" fill="#FA0000"/><polygon points="481.7,301.3 477.8,305.2 472.2,305.2 468.3,301.3 468.3,295.7 472.2,291.8 477.8,291.8 481.7,295.7" fill="#FA0000"/><polygon points="492.0,328.8 488.1,332.7 482.5,332.7 478.6,328.8 478.6,323.2 482.5,319.3 488.1,319.3 492.0,323.2" fill="#FA0000"/><polygon points="502.3,347.8 498.4,351.7 492.8,351.7 488.9,347.8 488.9,342.2 492.8,338.3 498.4,338.3 502.3,342.2" fill="#FA0000"/><polygon points="512.6,358.8 508.7,362.7 503.1,362.7 499.2,358.8 499.2,353.2 503.1,349.3 508.7,349.3 512.6,353.2" fill="#FA0000"/><polygon points="522.9,368.8 519.0,372.7 513.4,372.7 509.5,368.8 509.5,363.2 513.4,359.3 519.0,359.3 522.9,363.2" fill="#FA0000"/><polygon points="121.2,102.7 117.3,106.6 111.7,106.6 107.8,102.7 107.8,97.1 111.7,93.2 117.3,93.2 121.2,97.1" fill="#E40008"/><polygon points="131.5,103.0 127.6,107.0 122.0,107.0 118.1,103.0 118.1,97.5 122.0,93.5 127.6,93.5 131.5,97.5" fill="#E40008"/><polygon points="141.8,103.4 137.9,107.3 132.3,107.3 128.4,103.4 128.4,97.8 132.3,93.9 137.9,93.9 141.8,97.8" fill="#E40008"/><polygon points="152.1,103.7 148.2,107.7 142.6,107.7 138.7,103.7 138.7,98.1 142.6,94.2 148.2,94.2 152.1,98.1" fill="#E40008"/><polygon points="162.4,104.1 158.5,108.0 152.9,108.0 149.0,104.1 149.0,98.5 152.9,94.6 158.5,94.6 162.4,98.5" fill="#E40008"/><polygon points="172.7,104.4 168.8,108.3 163.2,108.3 159.3,104.4 159.3,98.8 163.2,94.9 168.8,94.9 172.7,98.8" fill="#E40008"/><polygon points="183.0,104.8 179.1,108.7 173.5,108.7 169.6,104.8 169.6,99.2 173.5,95.2 179.1,95.2 183.0,99.2" fill="#E40008"/><polygon points="193.3,105.1 189.4,109.0 183.8,109.0 179.9,105.1 179.9,99.5 183.8,95.6 189.4,95.6 193.3,99.5" fill="#E40008"/><polygon points="203.6,105.4 199.7,109.4 194.1,109.4 190.2,105.4 190.2,99.9 194.1,95.9 199.7,95.9 203.6,99.9" fill="#E40008"/><polygon points="213.9,105.8 210.0,109.7 204.4,109.7 200.5,105.8 200.5,100.2 204.4,96.3 210.0,96.3 213.9,100.2" fill="#E40008"/><polygon points="224.2,106.1 220.3,110.1 214.7,110.1 210.8,106.1 210.8,100.5 214.7,96.6 220.3,96.6 224.2,100.5" fill="#E40008"/><polygon points="234.5,106.5 230.6,110.4 225.0,110.4 221.1,106.5 221.1,100.9 225.0,96.9 230.6,96.9 234.5,100.9" fill="#E40008"/><polygon points="244.8,106.8 240.9,110.7 235.3,110.7 231.4,106.8 231.4,101.2 235.3,97.3 240.9,97.3 244.8,101.2" fill="#E40008"/><polygon points="255.1,106.7 251.2,110.6 245.6,110.6 241.7,106.7 241.7,101.1 245.6,97.2 251.2,97.2 255.1,101.1" fill="#E40008"/><polygon points="265.4,106.6 261.5,110.5 255.9,110.5 252.0,106.6 252.0,101.0 255.9,97.1 261.5,97.1 265.4,101.0" fill="#E40008"/><polygon points="275.7,107.9 271.8,111.8 266.2,111.8 262.3,107.9 262.3,102.3 266.2,98.4 271.8,98.4 275.7,102.3" fill="#E40008"/><polygon points="286.0,109.4 282.1,113.3 276.5,113.3 272.6,109.4 272.6,103.8 276.5,99.9 282.1,99.9 286.0,103.8" fill="#E40008"/><polygon points="296.3,110.2 292.4,114.1 286.8,114.1 282.9,110.2 282.9,104.6 286.8,100.7 292.4,100.7 296.3,104.6" fill="#E40008"/><polygon points="306.6,112.7 302.7,116.6 297.1,116.6 293.2,112.7 293.2,107.1 297.1,103.2 302.7,103.2 306.6,107.1" fill="#E40008"/><polygon points="316.9,115.9 313.0,119.8 307.4,119.8 303.5,115.9 303.5,110.3 307.4,106.4 313.0,106.4 316.9,110.3" fill="#E40008"/><polygon points="327.2,120.6 323.3,124.5 317.7,124.5 313.8,120.6 313.8,115.0 317.7,111.1 323.3,111.1 327.2,115.0" fill="#E40008"/><polygon points="337.5,125.3 333.6,129.2 328.0,129.2 324.1,125.3 324.1,119.7 328.0,115.8 333.6,115.8 337.5,119.7" fill="#E40008"/><polygon points="347.8,129.8 343.9,133.7 338.3,133.7 334.4,129.8 334.4,124.2 338.3,120.3 343.9,120.3 347.8,124.2" fill="#E40008"/><polygon points="358.1,135.8 354.2,139.7 348.6,139.7 344.7,135.8 344.7,130.2 348.6,126.3 354.2,126.3 358.1,130.2" fill="#E40008"/><polygon points="368.4,141.8 364.5,145.7 358.9,145.7 355.0,141.8 355.0,136.2 358.9,132.3 364.5,132.3 368.4,136.2" fill="#E40008"/><polygon points="378.7,148.1 374.8,152.0 369.2,152.0 365.3,148.1 365.3,142.5 369.2,138.6 374.8,138.6 378.7,142.5" fill="#E40008"/><polygon points="389.0,153.3 385.1,157.2 379.5,157.2 375.6,153.3 375.6,147.7 379.5,143.8 385.1,143.8 389.0,147.7" fill="#E40008"/><polygon points="399.3,164.8 395.4,168.7 389.8,168.7 385.9,164.8 385.9,159.2 389.8,155.3 395.4,155.3 399.3,159.2" fill="#E40008"/><polygon points="409.6,186.4 405.7,190.3 400.1,190.3 396.2,186.4 396.2,180.8 400.1,176.9 405.7,176.9 409.6,180.8" fill="#E40008"/><polygon points="419.9,199.8 416.0,203.7 410.4,203.7 406.5,199.8 406.5,194.2 410.4,190.3 416.0,190.3 419.9,194.2" fill="#E40008"/><polygon points="430.2,219.2 426.3,223.1 420.7,223.1 416.8,219.2 416.8,213.6 420.7,209.7 426.3,209.7 430.2,213.6" fill="#E40008"/><polygon points="440.5,235.2 436.6,239.1 431.0,239.1 427.1,235.2 427.1,229.6 431.0,225.7 436.6,225.7 440.5,229.6" fill="#E40008"/><polygon points="450.8,256.0 446.9,259.9 441.3,259.9 437.4,256.0 437.4,250.4 441.3,246.5 446.9,246.5 450.8,250.4" fill="#E40008"/><polygon points="461.1,270.9 457.2,274.8 451.6,274.8 447.7,270.9 447.7,265.3 451.6,261.4 457.2,261.4 461.1,265.3" fill="#E40008"/><polygon points="471.4,285.8 467.5,289.7 461.9,289.7 458.0,285.8 458.0,280.2 461.9,276.3 467.5,276.3 471.4,280.2" fill="#E40008"/><polygon points="481.7,309.5 477.8,313.4 472.2,313.4 468.3,309.5 468.3,303.9 472.2,300.0 477.8,300.0 481.7,303.9" fill="#E40008"/><polygon points="492.0,330.8 488.1,334.7 482.5,334.7 478.6,330.8 478.6,325.2 482.5,321.3 488.1,321.3 492.0,325.2" fill="#E40008"/><polygon points="502.3,349.7 498.4,353.6 492.8,353.6 488.9,349.7 488.9,344.1 492.8,340.2 498.4,340.2 502.3,344.1" fill="#E40008"/><polygon points="512.6,360.2 508.7,364.1 503.1,364.1 499.2,360.2 499.2,354.6 503.1,350.7 508.7,350.7 512.6,354.6" fill="#E40008"/><polygon points="522.9,369.8 519.0,373.7 513.4,373.7 509.5,369.8 509.5,364.2 513.4,360.3 519.0,360.3 522.9,364.2" fill="#E40008"/>
<line x1="107" y1="40" x2="107" y2="455" stroke="#000" stroke-width="4"/><line x1="105" y1="453" x2="520" y2="453" stroke="#000" stroke-width="4"/><line x1="209.75" y1="451" x2="209.75" y2="444" stroke="#000" stroke-width="3"/><line x1="312.50" y1="451" x2="312.50" y2="444" stroke="#000" stroke-width="3"/><line x1="415.25" y1="451" x2="415.25" y2="444" stroke="#000" stroke-width="3"/><line x1="109" y1="350.25" x2="115.5" y2="350.25" stroke="#000" stroke-width="3"/><line x1="109" y1="247.50" x2="115.5" y2="247.50" stroke="#000" stroke-width="3"/><line x1="109" y1="144.75" x2="115.5" y2="144.75" stroke="#000" stroke-width="3"/>
<text x="175" y="30.8" font-family="Liberation Sans, sans-serif" font-size="27.6" stroke="#000" stroke-width="0.4">Annealing Temp. 80</text><circle cx="427" cy="13.4" r="3.1" fill="none" stroke="#000" stroke-width="1.7"/><text x="429.7" y="30.8" font-family="Liberation Sans, sans-serif" font-size="27.6" stroke="#000" stroke-width="0.4">C</text><path d="M56.38 46.10L53.86 46.10L53.86 29.50L48.98 33.28L48.98 30.84L54.78 26.05L56.38 26.05Z" fill="#000" stroke="#000" stroke-width="0.4" stroke-linejoin="round"/><text x="61.50" y="46.1" font-family="Liberation Sans, sans-serif" font-size="28" fill="#000" stroke="#000" stroke-width="0.4" xml:space="preserve">0</text><path d="M83.50 31.90L81.92 31.90L81.92 21.52L78.88 23.88L78.88 22.36L82.50 19.37L83.50 19.37Z" fill="#000" stroke="#000" stroke-width="0.4" stroke-linejoin="round"/><text x="86.70" y="31.9" font-family="Liberation Sans, sans-serif" font-size="17.5" fill="#000" stroke="#000" stroke-width="0.4" xml:space="preserve">0</text><path d="M66.88 148.90L64.36 148.90L64.36 132.30L59.48 136.08L59.48 133.64L65.28 128.85L66.88 128.85Z" fill="#000" stroke="#000" stroke-width="0.4" stroke-linejoin="round"/><text x="72.00" y="148.9" font-family="Liberation Sans, sans-serif" font-size="28" fill="#000" stroke="#000" stroke-width="0.4" xml:space="preserve">0</text><text x="86.44" y="134.7" font-family="Liberation Sans, sans-serif" font-size="17.5" fill="#000" stroke="#000" stroke-width="0.4" xml:space="preserve">9</text><path d="M66.88 251.70L64.36 251.70L64.36 235.10L59.48 238.88L59.48 236.44L65.28 231.65L66.88 231.65Z" fill="#000" stroke="#000" stroke-width="0.4" stroke-linejoin="round"/><text x="72.00" y="251.7" font-family="Liberation Sans, sans-serif" font-size="28" fill="#000" stroke="#000" stroke-width="0.4" xml:space="preserve">0</text><text x="86.44" y="237.5" font-family="Liberation Sans, sans-serif" font-size="17.5" fill="#000" stroke="#000" stroke-width="0.4" xml:space="preserve">8</text><path d="M66.88 354.50L64.36 354.50L64.36 337.90L59.48 341.68L59.48 339.24L65.28 334.45L66.88 334.45Z" fill="#000" stroke="#000" stroke-width="0.4" stroke-linejoin="round"/><text x="72.00" y="354.5" font-family="Liberation Sans, sans-serif" font-size="28" fill="#000" stroke="#000" stroke-width="0.4" xml:space="preserve">0</text><text x="86.44" y="340.3" font-family="Liberation Sans, sans-serif" font-size="17.5" fill="#000" stroke="#000" stroke-width="0.4" xml:space="preserve">7</text><path d="M66.88 457.30L64.36 457.30L64.36 440.70L59.48 444.48L59.48 442.04L65.28 437.25L66.88 437.25Z" fill="#000" stroke="#000" stroke-width="0.4" stroke-linejoin="round"/><text x="72.00" y="457.3" font-family="Liberation Sans, sans-serif" font-size="28" fill="#000" stroke="#000" stroke-width="0.4" xml:space="preserve">0</text><text x="86.44" y="443.1" font-family="Liberation Sans, sans-serif" font-size="17.5" fill="#000" stroke="#000" stroke-width="0.4" xml:space="preserve">6</text><text x="91.93" y="484.9" font-family="Liberation Sans, sans-serif" font-size="28" fill="#000" stroke="#000" stroke-width="0.4" xml:space="preserve">80</text><text x="194.68" y="484.9" font-family="Liberation Sans, sans-serif" font-size="28" fill="#000" stroke="#000" stroke-width="0.4" xml:space="preserve">90</text><path d="M300.09 484.90L297.57 484.90L297.57 468.30L292.70 472.08L292.70 469.64L298.50 464.85L300.09 464.85Z" fill="#000" stroke="#000" stroke-width="0.4" stroke-linejoin="round"/><text x="305.22" y="484.9" font-family="Liberation Sans, sans-serif" font-size="28" fill="#000" stroke="#000" stroke-width="0.4" xml:space="preserve">00</text><path d="M402.84 484.90L400.32 484.90L400.32 468.30L395.45 472.08L395.45 469.64L401.25 464.85L402.84 464.85Z" fill="#000" stroke="#000" stroke-width="0.4" stroke-linejoin="round"/><path d="M418.41 484.90L415.89 484.90L415.89 468.30L411.02 472.08L411.02 469.64L416.81 464.85L418.41 464.85Z" fill="#000" stroke="#000" stroke-width="0.4" stroke-linejoin="round"/><text x="423.53" y="484.9" font-family="Liberation Sans, sans-serif" font-size="28" fill="#000" stroke="#000" stroke-width="0.4" xml:space="preserve">0</text><path d="M505.59 484.90L503.07 484.90L503.07 468.30L498.20 472.08L498.20 469.64L504.00 464.85L505.59 464.85Z" fill="#000" stroke="#000" stroke-width="0.4" stroke-linejoin="round"/><text x="510.72" y="484.9" font-family="Liberation Sans, sans-serif" font-size="28" fill="#000" stroke="#000" stroke-width="0.4" xml:space="preserve">20</text><text x="252" y="521.7" font-family="Liberation Sans, sans-serif" font-size="27.5" letter-spacing="0.55" stroke="#000" stroke-width="0.4">Temp. /</text><circle cx="350" cy="503.5" r="2.85" fill="none" stroke="#000" stroke-width="1.6"/><text x="353" y="521.7" font-family="Liberation Sans, sans-serif" font-size="26" stroke="#000" stroke-width="0.4">C</text><text transform="translate(34 365.5) rotate(-90)" font-family="Liberation Sans, sans-serif" font-size="33" stroke="#000" stroke-width="0.4" xml:space="preserve">E’ and E”  /MPa</text><text x="322.8" y="84.8" font-family="Liberation Sans, sans-serif" font-size="25.5" stroke="#000" stroke-width="0.3" letter-spacing="0.35">Primary</text><text x="419.3" y="84.8" font-family="Liberation Sans, sans-serif" font-size="25.5" stroke="#000" stroke-width="0.3">T</text><text x="431.6" y="89.6" font-family="Liberation Sans, sans-serif" font-size="15" font-weight="bold">g</text><path d="M459.69 73.30L457.67 73.30L457.67 59.96L453.75 62.99L453.75 61.04L458.41 57.19L459.69 57.19Z" fill="#000" stroke="#000" stroke-width="0.4" stroke-linejoin="round"/><text x="463.81" y="73.3" font-family="Liberation Sans, sans-serif" font-size="22.5" fill="#000" stroke="#000" stroke-width="0.4" xml:space="preserve">0 Hz</text><text x="157.2" y="208.6" font-family="Liberation Sans, sans-serif" font-size="24.5" stroke="#000" stroke-width="0.25">sub-</text><text x="203.5" y="208.6" font-family="Liberation Sans, sans-serif" font-size="25.5" stroke="#000" stroke-width="0.3">T</text><text x="218.2" y="214.2" font-family="Liberation Sans, sans-serif" font-size="15" font-weight="bold">g</text><path d="M374.0 306.7L380.7 313.4L374.0 320.1L367.3 313.4Z" fill="#0F66FA"/><text x="397.50" y="322.5" font-family="Liberation Sans, sans-serif" font-size="22.5" fill="#0F66FA" stroke="#0F66FA" stroke-width="0.4" xml:space="preserve">0h</text><path d="M374.0 331.8L380.7 338.5L374.0 345.2L367.3 338.5Z" fill="#7812DC"/><path d="M406.89 347.30L404.87 347.30L404.87 333.96L400.95 337.00L400.95 335.04L405.61 331.19L406.89 331.19Z" fill="#7812DC" stroke="#7812DC" stroke-width="0.4" stroke-linejoin="round"/><text x="411.01" y="347.3" font-family="Liberation Sans, sans-serif" font-size="22.5" fill="#7812DC" stroke="#7812DC" stroke-width="0.4" xml:space="preserve">h</text><path d="M374.0 356.7L380.7 363.4L374.0 370.1L367.3 363.4Z" fill="#D856E0"/><text x="397.50" y="372.1" font-family="Liberation Sans, sans-serif" font-size="22.5" fill="#D856E0" stroke="#D856E0" stroke-width="0.4" xml:space="preserve">5h</text><path d="M374.0 382.3L380.7 389.0L374.0 395.7L367.3 389.0Z" fill="#FA0000"/><path d="M406.89 397.50L404.87 397.50L404.87 384.16L400.95 387.19L400.95 385.24L405.61 381.39L406.89 381.39Z" fill="#FA0000" stroke="#FA0000" stroke-width="0.4" stroke-linejoin="round"/><text x="411.01" y="397.5" font-family="Liberation Sans, sans-serif" font-size="22.5" fill="#FA0000" stroke="#FA0000" stroke-width="0.4" xml:space="preserve">0h</text><path d="M374.0 407.1L380.7 413.8L374.0 420.5L367.3 413.8Z" fill="#E40008"/><text x="397.50" y="422.8" font-family="Liberation Sans, sans-serif" font-size="22.5" fill="#E40008" stroke="#E40008" stroke-width="0.4" xml:space="preserve">24h</text>
</g>
</svg>
</body></html>
